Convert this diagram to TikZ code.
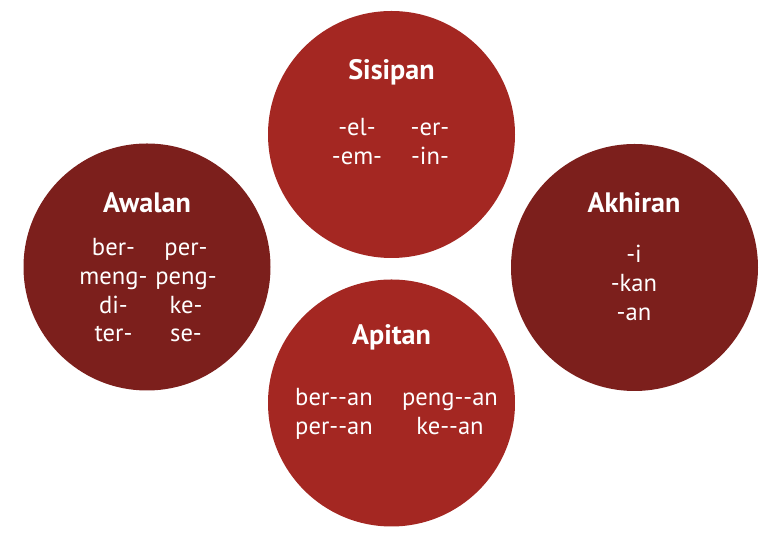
\documentclass[tikz,border=0pt]{standalone}
\usepackage{fontspec}
\setmainfont{PT Sans}
\usepackage{xcolor}
\usetikzlibrary{positioning}
\definecolor{redlight}{HTML}{A42722}
\definecolor{reddark}{HTML}{7C1F1C}

\begin{document}
\begin{tikzpicture}[auto]
  \tikzset{
    bubble/.style={circle, minimum size=4.94cm, inner sep=0pt},
    title/.style={text=white, font=\fontsize{16}{19}\selectfont\bfseries},
    items/.style={text=white, align=center, font=\fontsize{14}{16.4}\selectfont}
  }
  \useasboundingbox (0,0) rectangle (15.66,10.74);

  \node[bubble, fill=redlight] (sisipan) at (7.83,8.05) {};
  \node[bubble, fill=reddark] (awalan) at (2.94,5.40) {};
  \node[bubble, fill=redlight] (apitan) at (7.83,2.68) {};
  \node[bubble, fill=reddark] (akhiran) at (12.69,5.39) {};

  \node[title] (sisipanT) at (7.83,9.30) {Sisipan};
  \node[items] (sisipanA) at (7.14,7.85) {\strut-el-\\\strut-em-};
  \node[items] (sisipanB) at (8.60,7.85) {\strut-er-\\\strut-in-};

  \node[title] (awalanT) at (2.94,6.69) {Awalan};
  \node[items] (awalanA) at (2.27,4.88) {\strut ber-\\\strut meng-\\\strut di-\\\strut ter-};
  \node[items] (awalanB) at (3.72,4.88) {\strut per-\\\strut peng-\\\strut ke-\\\strut se-};

  \node[title] (akhiranT) at (12.68,6.69) {Akhiran};
  \node[items] (akhiranA) at (12.68,5.03) {\strut-i\\\strut-kan\\\strut-an};

  \node[title] (apitanT) at (7.83,3.99) {Apitan};
  \node[items] (apitanA) at (6.68,2.46) {\strut ber-{}-an\\\strut per-{}-an};
  \node[items] (apitanB) at (9.00,2.46) {\strut peng-{}-an\\\strut ke-{}-an};
\end{tikzpicture}
\end{document}
